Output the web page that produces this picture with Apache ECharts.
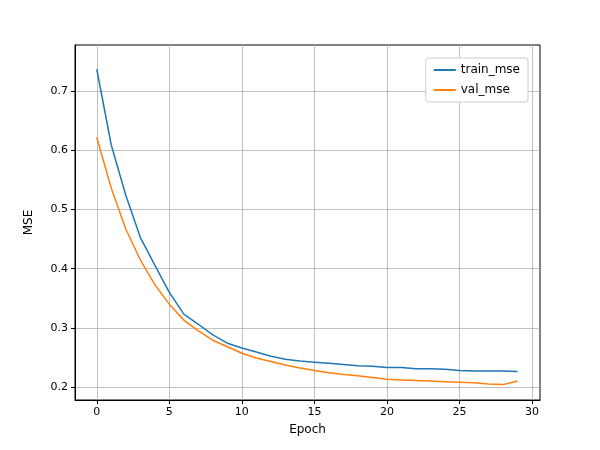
<!DOCTYPE html>
<html>
<head>
<meta charset="utf-8">
<script src="https://cdn.jsdelivr.net/npm/echarts@6/dist/echarts.min.js"></script>
<style>html,body{margin:0;background:#fff}#c{width:600px;height:450px}</style>
</head>
<body>
<div id="c"></div>
<script>
const epochs = Array.from({length: 30}, (_, i) => i);
const trainMse = [0.737,0.609,0.524,0.453,0.406,0.360,0.323,0.306,0.288,0.274,0.266,0.259,0.252,0.247,0.244,0.242,0.240,0.238,0.236,0.235,0.233,0.233,0.231,0.231,0.230,0.228,0.227,0.227,0.227,0.226];
const valMse = [0.622,0.536,0.467,0.415,0.373,0.340,0.313,0.295,0.279,0.268,0.257,0.249,0.243,0.237,0.232,0.228,0.224,0.221,0.219,0.216,0.213,0.212,0.211,0.210,0.209,0.208,0.207,0.205,0.204,0.210];
const xTicks = [0,5,10,15,20,25,30];
const yTicks = [0.2,0.3,0.4,0.5,0.6,0.7];

const font = 'DejaVu Sans';
const chart = echarts.init(document.getElementById('c'));
const axisCommon = {
    axisLine: {show: true, onZero: false, lineStyle: {color: '#000'}},
    axisTick: {show: true, length: 4, lineStyle: {color: '#000'}},
    splitLine: {show: true, lineStyle: {color: '#b0b0b0', width: 0.8}},
    nameLocation: 'middle',
    nameTextStyle: {color: '#000', fontSize: 12, fontFamily: font}
};
chart.setOption({
    animation: false,
    grid: {left: 75, right: 60, top: 45, bottom: 50, show: true, borderColor: '#000', borderWidth: 1},
    legend: {
        top: 58, right: 72, orient: 'vertical', itemWidth: 22, itemHeight: 2, itemGap: 8,
        backgroundColor: '#fff', borderColor: '#ccc', borderWidth: 1, borderRadius: 3, padding: [6, 8],
        textStyle: {fontFamily: font, fontSize: 12, color: '#000'},
        data: [{name: 'train_mse', icon: 'rect'}, {name: 'val_mse', icon: 'rect'}]
    },
    xAxis: Object.assign({}, axisCommon, {
        type: 'value', min: -1.5, max: 30.55, name: 'Epoch', nameGap: 24,
        axisTick: Object.assign({}, axisCommon.axisTick, {customValues: xTicks}),
        axisLabel: {customValues: xTicks, color: '#000', fontFamily: font, fontSize: 11, margin: 7}
    }),
    yAxis: Object.assign({}, axisCommon, {
        type: 'value', min: 0.178, max: 0.778, name: 'MSE', nameGap: 40,
        axisTick: Object.assign({}, axisCommon.axisTick, {customValues: yTicks}),
        axisLabel: {customValues: yTicks, color: '#000', fontFamily: font, fontSize: 11, margin: 7,
            formatter: v => v.toFixed(1)}
    }),
    series: [
        {name: 'train_mse', type: 'line', showSymbol: false, color: '#1f77b4', lineStyle: {width: 1.5},
         data: epochs.map((e, i) => [e, trainMse[i]])},
        {name: 'val_mse', type: 'line', showSymbol: false, color: '#ff7f0e', lineStyle: {width: 1.5},
         data: epochs.map((e, i) => [e, valMse[i]])}
    ]
});
</script>
</body>
</html>
